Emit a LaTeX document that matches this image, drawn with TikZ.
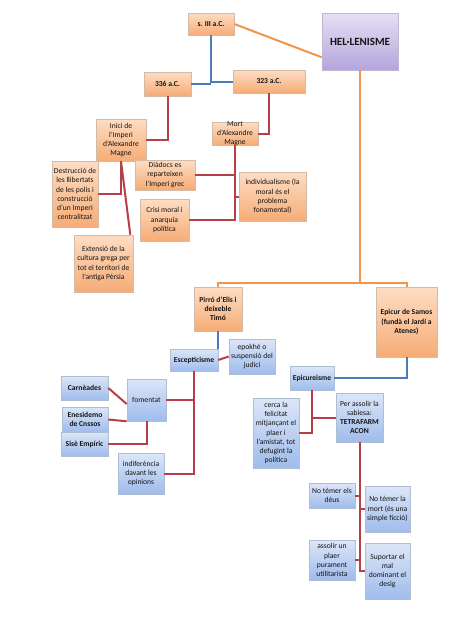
\documentclass[tikz,border=0pt]{standalone}
\usepackage{fontspec}
\setmainfont{Carlito}
\usetikzlibrary{shadows,calc}
\definecolor{orT}{HTML}{FDDDC4}
\definecolor{orD}{HTML}{F6AC76}
\definecolor{orB}{HTML}{D2BCA8}
\definecolor{blT}{HTML}{DCE6F8}
\definecolor{blD}{HTML}{9FBCEC}
\definecolor{blB}{HTML}{B0BED4}
\definecolor{puT}{HTML}{E6E0F4}
\definecolor{puD}{HTML}{B3A5DC}
\definecolor{puB}{HTML}{C0B8D2}
\definecolor{txt}{HTML}{141414}
\definecolor{redc}{HTML}{B83E48}
\definecolor{bluec}{HTML}{4A7CBA}
\definecolor{orc}{HTML}{F0964A}
\tikzset{
 base/.style={draw, line width=0.6pt, align=center, inner sep=1pt, text=txt,
   font=\fontsize{7.6}{9.2}\selectfont,
   drop shadow={shadow xshift=1.3pt, shadow yshift=-1.3pt, opacity=0.3}},
 obox/.style={base, draw=orB, top color=orT, bottom color=orD},
 bbox/.style={base, draw=blB, top color=blT, bottom color=blD},
 pbox/.style={base, draw=puB, top color=puT, bottom color=puD},
 bld/.style={font=\fontsize{7.6}{9.2}\selectfont\bfseries},
 rl/.style={draw=redc, line width=2pt},
 bl/.style={draw=bluec, line width=2pt},
 ol/.style={draw=orc, line width=2pt},
}
\newcommand\bx[7]{%
 \pgfmathsetmacro\bxw{#4-#2}\pgfmathsetmacro\bxh{#5-#3}%
 \node[#6, minimum width=\bxw pt, minimum height=\bxh pt] (#1) at ({(#2+#4)/2},{(#3+#5)/2}) {#7};}
\begin{document}
\begin{tikzpicture}[x=1pt,y=-1pt]
\useasboundingbox[fill=white] (0,0) rectangle (453,640);
% boxes
\bx{s3}{188}{13}{234}{35}{obox,bld}{s. III a.C.}
\bx{hel}{322}{13}{398}{70}{pbox,font=\fontsize{11}{13}\selectfont\bfseries}{HEL·LENISME}
\bx{t336}{144}{72}{191}{96}{obox,bld}{336 a.C.}
\bx{t323}{233}{70}{305}{93}{obox,bld}{323 a.C.}
\bx{inici}{96}{119}{146}{161}{obox}{Inici de\\l'Imperi\\d'Alexandre\\Magne}
\bx{mort}{212}{122}{258}{145}{obox,inner ysep=-3.5pt}{Mort\\d'Alexandre\\Magne}
\bx{diad}{135}{160}{195}{190}{obox}{Diàdocs es\\reparteixen\\l'Imperi grec}
\bx{destr}{52}{161}{98}{227}{obox,inner xsep=0pt}{Destrucció de\\les llibertats\\de les polis i\\construcció\\d'un Imperi\\centralitzat}
\bx{indiv}{239}{172}{306}{221}{obox}{individualisme (la\\moral és el\\problema\\fonamental)}
\bx{crisi}{140}{199}{189}{241}{obox}{Crisi moral i\\anarquia\\política}
\bx{ext}{74}{235}{133}{292}{obox,inner xsep=0pt}{Extensió de la\\cultura grega per\\tot el territori de\\l'antiga Pèrsia}
\bx{pirro}{194}{287}{242}{331}{obox,bld}{Pirró d'Elis i\\deixeble\\Timó}
\bx{epicur}{376}{287}{437}{357}{obox,bld}{Epicur de Samos\\(fundà el Jardí a\\Atenes)}
\bx{escep}{170}{349}{218}{371}{bbox,bld,inner xsep=0pt}{Escepticisme}
\bx{epokhe}{229}{339}{275}{374}{bbox}{epokhé o\\suspensió del\\judici}
\bx{epicism}{290}{366}{334}{390}{bbox,bld}{Epicureisme}
\bx{carn}{61}{376}{108}{400}{bbox,bld}{Carnèades}
\bx{foment}{127}{379}{166}{421}{bbox}{fomentat}
\bx{enes}{62}{407}{108}{432}{bbox,bld}{Enesidemo\\de Cnssos}
\bx{sise}{61}{432}{108}{456}{bbox,bld,inner xsep=0pt}{Sisè Empíric}
\bx{indif}{118}{453}{164}{494}{bbox}{indiferència\\davant les\\opinions}
\bx{cerca}{253}{398}{299}{468}{bbox,inner ysep=0pt}{cerca la\\felicitat\\mitjançant el\\plaer i\\l'amistat, tot\\defugint la\\política}
\bx{per}{336}{393}{383}{442}{bbox,inner ysep=0pt}{Per assolir la\\sabiesa:\\\textbf{TETRAFARM}\\\textbf{ACON}}
\bx{deus}{309}{483}{355}{508}{bbox}{No témer els\\déus}
\bx{mort2}{365}{486}{410}{532}{bbox}{No témer la\\mort (és una\\simple ficció)}
\bx{assol}{309}{540}{355}{580}{bbox}{assolir un\\plaer\\purament\\utilitarista}
\bx{suport}{365}{543}{410}{599}{bbox}{Suportar el\\mal\\dominant el\\desig}
% connectors
\draw[bl] (s3.south) |- (t323.west);
\draw[bl] (t336.east) -- (t336.east -| s3.south);
\draw[ol] (s3.east) -- ($(hel.south west)+(0,-13)$);
\coordinate (hj) at ($(hel.south)+(0,213)$);
\draw[ol] (hel.south) -- (hj);
\draw[ol] (pirro.north) |- (hj) -| (epicur.north);
\draw[rl] (t336.south) |- (inici.east);
\draw[rl] (t323.south) |- (mort.east);
\draw[rl] (inici.south) |- (destr.east);
\draw[rl] (inici.south) -- ($(ext.north east)+(-3,0)$);
\draw[rl] (mort.south) |- (crisi.east);
\draw[rl] (mort.south |- diad.east) -- (diad.east);
\draw[rl] (mort.south |- indiv.west) -- (indiv.west);
\draw[bl] (pirro.south) -- (pirro.south |- escep.north);
\draw[rl] (escep.east) -- (epokhe.west);
\draw[rl] (escep.south) |- (indif.east);
\draw[rl] (escep.south |- foment.east) -- (foment.east);
\draw[rl] (carn.east) -- ($(foment.west)+(0,4)$);
\draw[rl] (enes.east) -- (foment.south west);
\draw[rl] (foment.south) |- (sise.east);
\draw[bl] (epicur.south) |- (epicism.east);
\draw[rl] (epicism.south) |- (cerca.east);
\draw[rl] (epicism.south |- per.west) -- (per.west);
\draw[rl] (per.south) |- (suport.west);
\draw[rl] (per.south |- deus.east) -- (deus.east);
\draw[rl] (per.south |- mort2.west) -- (mort2.west);
\draw[rl] (per.south |- assol.east) -- (assol.east);
\end{tikzpicture}
\end{document}
